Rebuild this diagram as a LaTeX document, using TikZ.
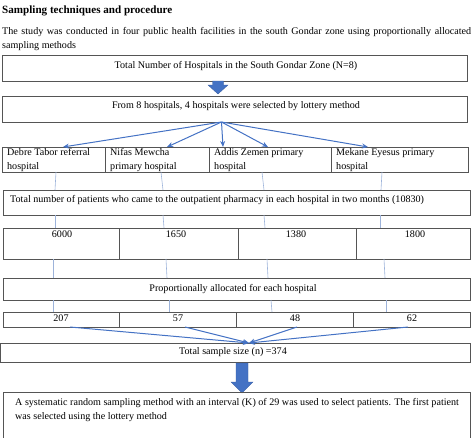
\documentclass[tikz,border=0pt]{standalone}
\usepackage{fontspec}
\setmainfont{Liberation Serif}
\usetikzlibrary{arrows.meta,shapes.arrows}
\definecolor{arrowblue}{HTML}{4472C4}
\definecolor{lineblue}{HTML}{9DB3DA}
\definecolor{boxgray}{HTML}{555555}
\begin{document}
\begin{tikzpicture}[x=1pt,y=-1pt,
  box/.style={draw=boxgray,line width=0.9pt,anchor=north west,inner sep=0pt,outer sep=0pt},
  txt/.style={inner sep=0pt,font=\fontsize{10.1}{14}\selectfont},
  link/.style={draw=lineblue,line width=0.6pt},
  sel/.style={draw=arrowblue,line width=1pt,-{Stealth[length=6pt,width=5pt]}},
  blockarrow/.style={fill=arrowblue,draw=arrowblue!80!black,line width=0.3pt}
]
\useasboundingbox (0,0) rectangle (474,437);
% heading and paragraph
\node[txt,anchor=west,font=\fontsize{11.1}{12}\selectfont\bfseries] (title) at (2,11) {Sampling techniques and procedure};
\node[txt,anchor=north west,text width=469pt,align=justify] (para) at (2,27.5) {The study was conducted in four public health facilities in the south Gondar zone using proportionally allocated sampling methods};
% box 1
\node[box,minimum width=465pt,minimum height=26pt] (b1) at (2,55) {};
\node[txt] (b1t) at (236,66) {Total Number of Hospitals in the South Gondar Zone (N=8)};
% block arrow 1
\fill[blockarrow] (212.5,81) -- (223.5,81) -- (223.5,85) -- (228,85) -- (218,94) -- (208,85) -- (212.5,85) -- cycle;
% box 2
\node[box,minimum width=465pt,minimum height=26pt] (b2) at (2,96) {};
\node[txt] (b2t) at (236,106) {From 8 hospitals, 4 hospitals were selected by lottery method};
% hospital row
\node[box,minimum width=103pt,minimum height=25pt] (h1) at (2,147) {};
\node[box,minimum width=104pt,minimum height=25pt] (h2) at (105,147) {};
\node[box,minimum width=122pt,minimum height=25pt] (h3) at (209,147) {};
\node[box,minimum width=137pt,minimum height=25pt] (h4) at (331,147) {};
\node[txt,anchor=north west,align=left] (h1t) at ([xshift=5pt,yshift=-1.5pt]h1.north west) {Debre Tabor referral\\hospital};
\node[txt,anchor=north west,align=left] (h2t) at ([xshift=5pt,yshift=-1.5pt]h2.north west) {Nifas Mewcha\\primary hospital};
\node[txt,anchor=north west,align=left] (h3t) at ([xshift=5pt,yshift=-1.5pt]h3.north west) {Addis Zemen primary\\hospital};
\node[txt,anchor=north west,align=left] (h4t) at ([xshift=5pt,yshift=-1.5pt]h4.north west) {Mekane Eyesus primary\\hospital};
\coordinate (src) at ([xshift=-13pt]b2.south);
\draw[sel] (src) -- (h1.north -| 63,0);
\draw[sel] (src) -- (h2.north -| 167,0);
\draw[sel] (src) -- (h3.north -| 223,0);
\draw[sel] (src) -- (h3.north -| 268,0);
\draw[sel] (src) -- (h4.north -| 368,0);
% box 3
\node[box,minimum width=467pt,minimum height=25pt] (b3) at (3,190) {};
\node[txt,anchor=west] (b3t) at (10,200) {Total number of patients who came to the outpatient pharmacy in each hospital in two months (10830)};
\draw[link] (h1.south -| 56,0) -- (b3.north -| 55,0);
\draw[link] (h2.south -| 161,0) -- (b3.north -| 163,0);
\draw[link] (h3.south -| 262,0) -- (b3.north -| 264,0);
\draw[link] (h4.south -| 382,0) -- (b3.north -| 381,0);
% number row
\node[box,minimum width=116pt,minimum height=31pt] (n1) at (3,228) {};
\node[box,minimum width=119pt,minimum height=31pt] (n2) at (119,228) {};
\node[box,minimum width=118pt,minimum height=31pt] (n3) at (238,228) {};
\node[box,minimum width=114pt,minimum height=31pt] (n4) at (356,228) {};
\node[txt] (n1t) at (62,234) {6000};
\node[txt] (n2t) at (176,234) {1650};
\node[txt] (n3t) at (296,234) {1380};
\node[txt] (n4t) at (415,234) {1800};
\draw[link] (b3.south -| 55,0) -- (n1.north -| 55,0);
\draw[link] (b3.south -| 163,0) -- (n2.north -| 164,0);
\draw[link] (b3.south -| 264,0) -- (n3.north -| 265,0);
\draw[link] (b3.south -| 380,0) -- (n4.north -| 380,0);
% box 4
\node[box,minimum width=467pt,minimum height=22pt] (b4) at (3,278) {};
\node[txt] (b4t) at (233,289) {Proportionally allocated for each hospital};
\draw[link] (n1.south -| 53,0) -- (b4.north -| 53,0);
\draw[link] (n2.south -| 166,0) -- (b4.north -| 167,0);
\draw[link] (n3.south -| 267,0) -- (b4.north -| 268,0);
\draw[link] (n4.south -| 384,0) -- (b4.north -| 385,0);
% allocation row
\node[box,minimum width=116pt,minimum height=15pt] (a1) at (3,312) {};
\node[box,minimum width=117pt,minimum height=15pt] (a2) at (119,312) {};
\node[box,minimum width=117pt,minimum height=15pt] (a3) at (236,312) {};
\node[box,minimum width=117pt,minimum height=15pt] (a4) at (353,312) {};
\node[txt] (a1t) at (61,318.5) {207};
\node[txt] (a2t) at (178,318.5) {57};
\node[txt] (a3t) at (295,318.5) {48};
\node[txt] (a4t) at (412,318.5) {62};
\draw[link] (b4.south -| 53,0) -- (a1.north -| 53,0);
\draw[link] (b4.south -| 169,0) -- (a2.north -| 169,0);
\draw[link] (b4.south -| 271,0) -- (a3.north -| 272,0);
\draw[link] (b4.south -| 386,0) -- (a4.north -| 386,0);
% box 5
\node[box,minimum width=470pt,minimum height=19pt] (b5) at (0,343) {};
\node[txt] (b5t) at (233,352.5) {Total sample size (n) =374};
\coordinate (dst) at (b5.north -| 249,0);
\draw[sel] (a1.south -| 70,0) -- (dst);
\draw[sel] (a2.south -| 185,0) -- (dst);
\draw[sel] (a3.south -| 297,0) -- (dst);
\draw[sel] (a4.south -| 408,0) -- (dst);
% block arrow 2
\fill[blockarrow] (236,363) -- (248,363) -- (248,382) -- (253,382) -- (242,393) -- (231,382) -- (236,382) -- cycle;
% box 6
\node[box,minimum width=467pt,minimum height=50pt] (b6) at (3,392) {};
\node[txt,anchor=north west,align=left] (b6t) at (15,398) {A systematic random sampling method with an interval (K) of 29 was used to select patients. The first patient\\was selected using the lottery method};
\end{tikzpicture}
\end{document}
